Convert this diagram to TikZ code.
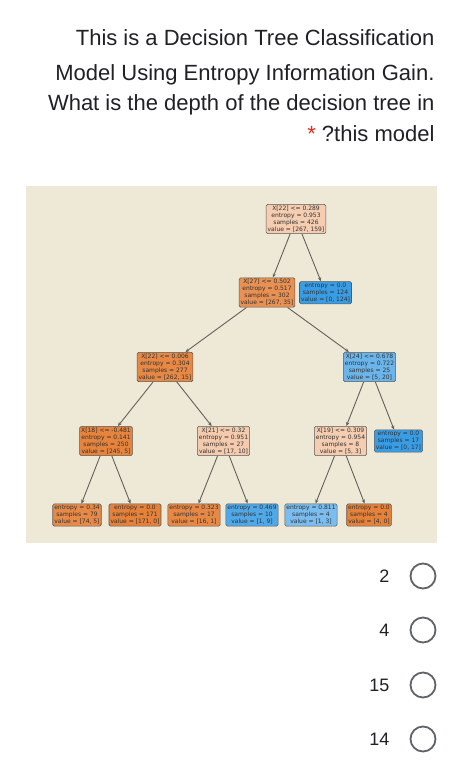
\documentclass[tikz,border=0pt]{standalone}
\usepackage{fontspec}
\setmainfont{Liberation Sans}
\newfontfamily\treefont{DejaVu Sans}
\definecolor{classA}{RGB}{229, 129, 57}
\definecolor{classB}{RGB}{57, 157, 229}
\definecolor{panelbg}{RGB}{238, 232, 214}
\definecolor{inktext}{RGB}{32, 33, 36}
\definecolor{starred}{RGB}{217, 48, 37}
\definecolor{radiogray}{RGB}{95, 99, 104}
\definecolor{edgegray}{RGB}{98, 98, 92}
\usetikzlibrary{arrows.meta}

\tikzset{
  treenode/.style={draw=black!65, rounded corners=1.5pt, line width=0.6pt, inner sep=1.5pt,
    align=center, text=black!80, font=\treefont\fontsize{6}{7}\selectfont},
  treeedge/.style={edgegray, line width=0.9pt, -{Stealth[length=4pt, width=3.4pt]}},
  radio/.style={draw=radiogray, line width=1.8pt, circle, minimum size=25pt, inner sep=0pt},
  answer/.style={anchor=base east, text=inktext, font=\fontsize{18}{20}\selectfont},
  question/.style={anchor=base east, text=inktext, font=\fontsize{22}{26}\selectfont}
}

\begin{document}
\begin{tikzpicture}[x=1pt, y=-1pt]

\useasboundingbox[fill=white] (0,0) rectangle (474,769);

%%% QUESTION
\node[question] (q1) at (438,45) {This is a Decision Tree Classification};
\node[question] (q2) at (438,80) {Model Using Entropy Information Gain.};
\node[question] (q3) at (438,110) {What is the depth of the decision tree in};
\node[question] (q4) at (438,141) {\textcolor{starred}{*} ?this model};

%%% PANEL
\fill[panelbg] (26,186) rectangle (437,543);

%%% DEPTH 0
\node[treenode, fill=classA!40!white] (root) at (296,219) {X[22] <= 0.289\\entropy = 0.953\\samples = 426\\value = [267, 159]};

%%% DEPTH 1
\node[treenode, fill=classA!87!white] (n1) at (267,292.5) {X[27] <= 0.502\\entropy = 0.517\\samples = 302\\value = [267, 35]};
\node[treenode, fill=classB] (l1) at (325.5,292.7) {entropy = 0.0\\samples = 124\\value = [0, 124]};

%%% DEPTH 2
\node[treenode, fill=classA!94!white] (n2) at (165,367) {X[22] <= 0.006\\entropy = 0.304\\samples = 277\\value = [262, 15]};
\node[treenode, fill=classB!75!white] (n3) at (369.5,367) {X[24] <= 0.678\\entropy = 0.722\\samples = 25\\value = [5, 20]};

%%% DEPTH 3
\node[treenode, fill=classA!98!white] (n4) at (106,441) {X[18] <= -0.481\\entropy = 0.141\\samples = 250\\value = [245, 5]};
\node[treenode, fill=classA!41!white] (n5) at (223.5,441) {X[21] <= 0.32\\entropy = 0.951\\samples = 27\\value = [17, 10]};
\node[treenode, fill=classA!40!white] (n6) at (340.5,441) {X[19] <= 0.309\\entropy = 0.954\\samples = 8\\value = [5, 3]};
\node[treenode, fill=classB] (l2) at (398.5,441) {entropy = 0.0\\samples = 17\\value = [0, 17]};

%%% DEPTH 4
\node[treenode, fill=classA!93!white] (l3) at (77,515) {entropy = 0.34\\samples = 79\\value = [74, 5]};
\node[treenode, fill=classA] (l4) at (135,515) {entropy = 0.0\\samples = 171\\value = [171, 0]};
\node[treenode, fill=classA!94!white] (l5) at (194,515) {entropy = 0.323\\samples = 17\\value = [16, 1]};
\node[treenode, fill=classB!89!white] (l6) at (252,515) {entropy = 0.469\\samples = 10\\value = [1, 9]};
\node[treenode, fill=classB!67!white] (l7) at (311,515) {entropy = 0.811\\samples = 4\\value = [1, 3]};
\node[treenode, fill=classA] (l8) at (369,515) {entropy = 0.0\\samples = 4\\value = [4, 0]};

%%% EDGES
\draw[treeedge] (root) -- (n1);
\draw[treeedge] (root) -- (l1);
\draw[treeedge] (n1) -- (n2);
\draw[treeedge] (n1) -- (n3);
\draw[treeedge] (n2) -- (n4);
\draw[treeedge] (n2) -- (n5);
\draw[treeedge] (n3) -- (n6);
\draw[treeedge] (n3) -- (l2);
\draw[treeedge] (n4) -- (l3);
\draw[treeedge] (n4) -- (l4);
\draw[treeedge] (n5) -- (l5);
\draw[treeedge] (n5) -- (l6);
\draw[treeedge] (n6) -- (l7);
\draw[treeedge] (n6) -- (l8);

%%% ANSWERS
\node[answer] (a1) at (393,582) {2};
\node[radio] (r1) at (423,576) {};
\node[answer] (a2) at (393,636) {4};
\node[radio] (r2) at (423,630) {};
\node[answer] (a3) at (393,691) {15};
\node[radio] (r3) at (423,685) {};
\node[answer] (a4) at (393,745) {14};
\node[radio] (r4) at (423,739) {};

\end{tikzpicture}
\end{document}
